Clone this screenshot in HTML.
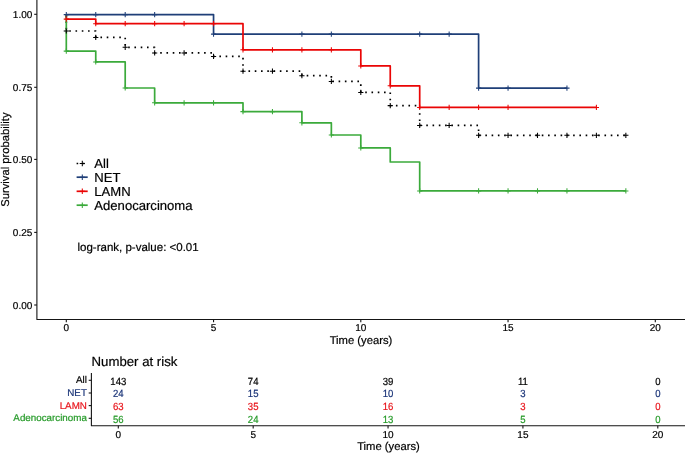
<!DOCTYPE html>
<html><head><meta charset="utf-8"><style>
html,body{margin:0;padding:0;background:#fff;}
body{width:685px;height:453px;overflow:hidden;}
svg{display:block;}
text{font-family:"Liberation Sans",Arial,sans-serif;fill:#000;text-rendering:geometricPrecision;stroke:currentColor;stroke-width:0.2px;}
.tk{font-size:10px;}
.at{font-size:11.25px;}
.ayt{font-size:11.25px;}
.lg{font-size:13.1px;}
.lr{font-size:11.5px;}
.rt{font-size:13.2px;}
.rl{font-size:9.8px;}
.rv{font-size:10.4px;}
</style></head><body>
<svg width="685" height="453" viewBox="0 0 685 453">
<rect width="685" height="453" fill="#fff"/>
<path d="M36.9,0V319.45H685" fill="none" stroke="#151515" stroke-width="1.1" stroke-linejoin="round"/>
<line x1="34.199999999999996" y1="14.30" x2="36.9" y2="14.30" stroke="#151515" stroke-width="1.1"/>
<text x="32.3" y="18.20" class="tk" text-anchor="end">1.00</text>
<line x1="34.199999999999996" y1="87.30" x2="36.9" y2="87.30" stroke="#151515" stroke-width="1.1"/>
<text x="32.3" y="91.20" class="tk" text-anchor="end">0.75</text>
<line x1="34.199999999999996" y1="159.40" x2="36.9" y2="159.40" stroke="#151515" stroke-width="1.1"/>
<text x="32.3" y="163.30" class="tk" text-anchor="end">0.50</text>
<line x1="34.199999999999996" y1="232.40" x2="36.9" y2="232.40" stroke="#151515" stroke-width="1.1"/>
<text x="32.3" y="236.30" class="tk" text-anchor="end">0.25</text>
<line x1="34.199999999999996" y1="305.00" x2="36.9" y2="305.00" stroke="#151515" stroke-width="1.1"/>
<text x="32.3" y="308.90" class="tk" text-anchor="end">0.00</text>
<line x1="66.30" y1="319.45" x2="66.30" y2="322.15" stroke="#151515" stroke-width="1.1"/>
<text x="66.30" y="330.9" class="tk" text-anchor="middle">0</text>
<line x1="213.55" y1="319.45" x2="213.55" y2="322.15" stroke="#151515" stroke-width="1.1"/>
<text x="213.55" y="330.9" class="tk" text-anchor="middle">5</text>
<line x1="360.80" y1="319.45" x2="360.80" y2="322.15" stroke="#151515" stroke-width="1.1"/>
<text x="360.80" y="330.9" class="tk" text-anchor="middle">10</text>
<line x1="508.05" y1="319.45" x2="508.05" y2="322.15" stroke="#151515" stroke-width="1.1"/>
<text x="508.05" y="330.9" class="tk" text-anchor="middle">15</text>
<line x1="655.30" y1="319.45" x2="655.30" y2="322.15" stroke="#151515" stroke-width="1.1"/>
<text x="655.30" y="330.9" class="tk" text-anchor="middle">20</text>
<text x="361" y="344" class="at" text-anchor="middle">Time (years)</text>
<text transform="translate(8.9,159.6) rotate(-90)" class="ayt" text-anchor="middle">Survival probability</text>
<path d="M66.30,14.60H66.30V31.00H95.75V37.40H125.20V47.30H154.65V52.90H213.55V56.40H243.00V71.20H301.90V75.70H331.35V81.40H360.80V92.40H390.25V105.60H419.70V125.40H478.60V135.30H625.85" fill="none" stroke="#000000" stroke-width="1.7" stroke-linejoin="round" stroke-dasharray="1.6 4.67" stroke-dashoffset="5.75"/>
<path d="M66.30,14.60H213.55V34.10H478.60V88.10H566.95" fill="none" stroke="#1f3f78" stroke-width="1.7" stroke-linejoin="round"/>
<path d="M66.30,14.60H66.30V19.10H95.75V23.70H243.00V49.80H360.80V65.90H390.25V85.80H419.70V107.40H596.40" fill="none" stroke="#ea0505" stroke-width="1.7" stroke-linejoin="round"/>
<path d="M66.30,14.60H66.30V51.10H95.75V61.90H125.20V88.00H154.65V102.80H243.00V111.60H301.90V122.80H331.35V135.00H360.80V147.90H390.25V162.00H419.70V190.90H625.85" fill="none" stroke="#3baa3b" stroke-width="1.7" stroke-linejoin="round"/>
<path d="M63.70,31.00h5.2M66.30,28.40v5.2M93.15,37.40h5.2M95.75,34.80v5.2M122.60,47.30h5.2M125.20,44.70v5.2M152.05,52.90h5.2M154.65,50.30v5.2M181.50,52.90h5.2M184.10,50.30v5.2M210.95,56.40h5.2M213.55,53.80v5.2M240.40,71.20h5.2M243.00,68.60v5.2M269.85,71.20h5.2M272.45,68.60v5.2M299.30,75.70h5.2M301.90,73.10v5.2M328.75,81.40h5.2M331.35,78.80v5.2M358.20,92.40h5.2M360.80,89.80v5.2M387.65,105.60h5.2M390.25,103.00v5.2M417.10,125.40h5.2M419.70,122.80v5.2M446.55,125.40h5.2M449.15,122.80v5.2M476.00,135.30h5.2M478.60,132.70v5.2M505.45,135.30h5.2M508.05,132.70v5.2M534.90,135.30h5.2M537.50,132.70v5.2M564.35,135.30h5.2M566.95,132.70v5.2M593.80,135.30h5.2M596.40,132.70v5.2M623.25,135.30h5.2M625.85,132.70v5.2" fill="none" stroke="#000000" stroke-width="1.05"/>
<path d="M63.70,14.60h5.2M66.30,12.00v5.2M93.15,14.60h5.2M95.75,12.00v5.2M122.60,14.60h5.2M125.20,12.00v5.2M152.05,14.60h5.2M154.65,12.00v5.2M210.95,34.10h5.2M213.55,31.50v5.2M299.30,34.10h5.2M301.90,31.50v5.2M328.75,34.10h5.2M331.35,31.50v5.2M417.10,34.10h5.2M419.70,31.50v5.2M446.55,34.10h5.2M449.15,31.50v5.2M476.00,88.10h5.2M478.60,85.50v5.2M505.45,88.10h5.2M508.05,85.50v5.2M564.35,88.10h5.2M566.95,85.50v5.2" fill="none" stroke="#1f3f78" stroke-width="1.05"/>
<path d="M63.70,19.10h5.2M66.30,16.50v5.2M93.15,23.70h5.2M95.75,21.10v5.2M122.60,23.70h5.2M125.20,21.10v5.2M152.05,23.70h5.2M154.65,21.10v5.2M181.50,23.70h5.2M184.10,21.10v5.2M210.95,23.70h5.2M213.55,21.10v5.2M240.40,49.80h5.2M243.00,47.20v5.2M269.85,49.80h5.2M272.45,47.20v5.2M299.30,49.80h5.2M301.90,47.20v5.2M328.75,49.80h5.2M331.35,47.20v5.2M358.20,65.90h5.2M360.80,63.30v5.2M387.65,85.80h5.2M390.25,83.20v5.2M417.10,107.40h5.2M419.70,104.80v5.2M446.55,107.40h5.2M449.15,104.80v5.2M476.00,107.40h5.2M478.60,104.80v5.2M505.45,107.40h5.2M508.05,104.80v5.2M593.80,107.40h5.2M596.40,104.80v5.2" fill="none" stroke="#ea0505" stroke-width="1.05"/>
<path d="M63.70,51.10h5.2M66.30,48.50v5.2M93.15,61.90h5.2M95.75,59.30v5.2M122.60,88.00h5.2M125.20,85.40v5.2M152.05,102.80h5.2M154.65,100.20v5.2M181.50,102.80h5.2M184.10,100.20v5.2M210.95,102.80h5.2M213.55,100.20v5.2M240.40,111.60h5.2M243.00,109.00v5.2M269.85,111.60h5.2M272.45,109.00v5.2M299.30,122.80h5.2M301.90,120.20v5.2M328.75,135.00h5.2M331.35,132.40v5.2M358.20,147.90h5.2M360.80,145.30v5.2M417.10,190.90h5.2M419.70,188.30v5.2M476.00,190.90h5.2M478.60,188.30v5.2M505.45,190.90h5.2M508.05,188.30v5.2M534.90,190.90h5.2M537.50,188.30v5.2M564.35,190.90h5.2M566.95,188.30v5.2M623.25,190.90h5.2M625.85,188.30v5.2" fill="none" stroke="#3baa3b" stroke-width="1.05"/>
<path d="M76.6,163.5h11.1" stroke="#000000" stroke-width="1.7" stroke-dasharray="1.6 4.7" fill="none"/>
<path d="M79.7,163.5h5.2M82.3,160.8v5.4" stroke="#000000" stroke-width="1.05" fill="none"/>
<text x="94.3" y="168.30" class="lg">All</text>
<path d="M76.6,177.2h11.1" stroke="#1f3f78" stroke-width="1.7" fill="none"/>
<path d="M79.7,177.2h5.2M82.3,174.5v5.4" stroke="#1f3f78" stroke-width="1.05" fill="none"/>
<text x="94.3" y="182.00" class="lg">NET</text>
<path d="M76.6,191.3h11.1" stroke="#ea0505" stroke-width="1.7" fill="none"/>
<path d="M79.7,191.3h5.2M82.3,188.60000000000002v5.4" stroke="#ea0505" stroke-width="1.05" fill="none"/>
<text x="94.3" y="196.10" class="lg">LAMN</text>
<path d="M76.6,205.2h11.1" stroke="#3baa3b" stroke-width="1.7" fill="none"/>
<path d="M79.7,205.2h5.2M82.3,202.5v5.4" stroke="#3baa3b" stroke-width="1.05" fill="none"/>
<text x="94.3" y="210.00" class="lg">Adenocarcinoma</text>
<text x="77.5" y="251.3" class="lr">log-rank, p-value: &lt;0.01</text>
<text x="91.6" y="365.9" class="rt">Number at risk</text>
<path d="M91.4,373.1V425.8H685" fill="none" stroke="#151515" stroke-width="1.1" stroke-linejoin="round"/>
<line x1="88.7" y1="380.3" x2="91.4" y2="380.3" stroke="#151515" stroke-width="1.1"/>
<text x="86.9" y="383.40" class="rl" style="fill:#000;stroke:#000" text-anchor="end">All</text>
<text transform="translate(118.30,384.70) scale(0.92,1)" class="rv" style="fill:#000;stroke:#000" text-anchor="middle">143</text>
<text transform="translate(253.18,384.70) scale(0.92,1)" class="rv" style="fill:#000;stroke:#000" text-anchor="middle">74</text>
<text transform="translate(388.05,384.70) scale(0.92,1)" class="rv" style="fill:#000;stroke:#000" text-anchor="middle">39</text>
<text transform="translate(522.92,384.70) scale(0.92,1)" class="rv" style="fill:#000;stroke:#000" text-anchor="middle">11</text>
<text transform="translate(657.80,384.70) scale(0.92,1)" class="rv" style="fill:#000;stroke:#000" text-anchor="middle">0</text>
<line x1="88.7" y1="393.0" x2="91.4" y2="393.0" stroke="#151515" stroke-width="1.1"/>
<text x="86.9" y="396.10" class="rl" style="fill:#1a3478;stroke:#1a3478" text-anchor="end">NET</text>
<text transform="translate(118.30,397.40) scale(0.92,1)" class="rv" style="fill:#1a3478;stroke:#1a3478" text-anchor="middle">24</text>
<text transform="translate(253.18,397.40) scale(0.92,1)" class="rv" style="fill:#1a3478;stroke:#1a3478" text-anchor="middle">15</text>
<text transform="translate(388.05,397.40) scale(0.92,1)" class="rv" style="fill:#1a3478;stroke:#1a3478" text-anchor="middle">10</text>
<text transform="translate(522.92,397.40) scale(0.92,1)" class="rv" style="fill:#1a3478;stroke:#1a3478" text-anchor="middle">3</text>
<text transform="translate(657.80,397.40) scale(0.92,1)" class="rv" style="fill:#1a3478;stroke:#1a3478" text-anchor="middle">0</text>
<line x1="88.7" y1="405.6" x2="91.4" y2="405.6" stroke="#151515" stroke-width="1.1"/>
<text x="86.9" y="408.70" class="rl" style="fill:#e8141b;stroke:#e8141b" text-anchor="end">LAMN</text>
<text transform="translate(118.30,410.00) scale(0.92,1)" class="rv" style="fill:#e8141b;stroke:#e8141b" text-anchor="middle">63</text>
<text transform="translate(253.18,410.00) scale(0.92,1)" class="rv" style="fill:#e8141b;stroke:#e8141b" text-anchor="middle">35</text>
<text transform="translate(388.05,410.00) scale(0.92,1)" class="rv" style="fill:#e8141b;stroke:#e8141b" text-anchor="middle">16</text>
<text transform="translate(522.92,410.00) scale(0.92,1)" class="rv" style="fill:#e8141b;stroke:#e8141b" text-anchor="middle">3</text>
<text transform="translate(657.80,410.00) scale(0.92,1)" class="rv" style="fill:#e8141b;stroke:#e8141b" text-anchor="middle">0</text>
<line x1="88.7" y1="418.3" x2="91.4" y2="418.3" stroke="#151515" stroke-width="1.1"/>
<text x="86.9" y="421.40" class="rl" style="fill:#259a28;stroke:#259a28" text-anchor="end">Adenocarcinoma</text>
<text transform="translate(118.30,422.70) scale(0.92,1)" class="rv" style="fill:#259a28;stroke:#259a28" text-anchor="middle">56</text>
<text transform="translate(253.18,422.70) scale(0.92,1)" class="rv" style="fill:#259a28;stroke:#259a28" text-anchor="middle">24</text>
<text transform="translate(388.05,422.70) scale(0.92,1)" class="rv" style="fill:#259a28;stroke:#259a28" text-anchor="middle">13</text>
<text transform="translate(522.92,422.70) scale(0.92,1)" class="rv" style="fill:#259a28;stroke:#259a28" text-anchor="middle">5</text>
<text transform="translate(657.80,422.70) scale(0.92,1)" class="rv" style="fill:#259a28;stroke:#259a28" text-anchor="middle">0</text>
<line x1="118.30" y1="425.8" x2="118.30" y2="428.5" stroke="#151515" stroke-width="1.1"/>
<text x="118.30" y="437.5" class="tk" text-anchor="middle">0</text>
<line x1="253.18" y1="425.8" x2="253.18" y2="428.5" stroke="#151515" stroke-width="1.1"/>
<text x="253.18" y="437.5" class="tk" text-anchor="middle">5</text>
<line x1="388.05" y1="425.8" x2="388.05" y2="428.5" stroke="#151515" stroke-width="1.1"/>
<text x="388.05" y="437.5" class="tk" text-anchor="middle">10</text>
<line x1="522.92" y1="425.8" x2="522.92" y2="428.5" stroke="#151515" stroke-width="1.1"/>
<text x="522.92" y="437.5" class="tk" text-anchor="middle">15</text>
<line x1="657.80" y1="425.8" x2="657.80" y2="428.5" stroke="#151515" stroke-width="1.1"/>
<text x="657.80" y="437.5" class="tk" text-anchor="middle">20</text>
<text x="388.5" y="450" class="at" text-anchor="middle">Time (years)</text>
</svg>
</body></html>
